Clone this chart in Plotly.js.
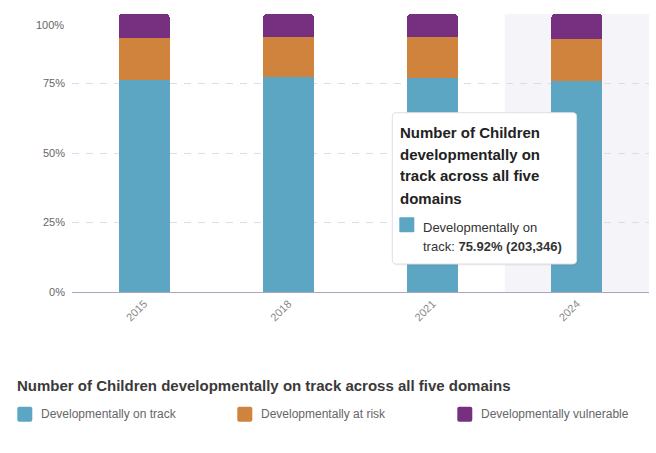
<!DOCTYPE html>
<html>
<head>
<meta charset="utf-8">
<script src="https://cdn.plot.ly/plotly-3.0.1.min.js"></script>
<style>
  html, body { margin: 0; padding: 0; background: #fff; }
  #chart { width: 656px; height: 453px; }
</style>
</head>
<body>
<div id="chart"></div>
<script>
// Share of children by developmental status, per collection year (percent)
const years = ['2015', '2018', '2021', '2024'];
const onTrack = [76.4, 77.3, 77.1, 75.92];
const atRisk = [15.1, 14.5, 14.7, 15.08];
const vulnerable = [8.5, 8.2, 8.2, 9.0];

const seriesNames = ['Developmentally on track', 'Developmentally at risk', 'Developmentally vulnerable'];
const seriesColors = ['#5ca5c3', '#cf833d', '#76307f'];

const yTickValues = [0, 25, 50, 75, 100];
const yTickLabels = ['0%', '25%', '50%', '75%', '100%'];

const chartTitle = 'Number of Children developmentally on track across all five domains';
const tooltipTitleLines = ['Number of Children', 'developmentally on', 'track across all five', 'domains'];
const highlightIndex = 3;        // 2024 column
const highlightCount = 203346;   // children on track in 2024

// plot-area box in page pixels, used to place the tooltip card and legend
const PL = 72, PR = 649, PT = 14, PB = 292;
const px = x => (x - PL) / (PR - PL);
const py = y => (PB - y) / (PB - PT);

function roundedRect(x0, y0, x1, y1, r) {
  const X = v => px(v).toFixed(5), Y = v => py(v).toFixed(5);
  return `M${X(x0 + r)},${Y(y0)} L${X(x1 - r)},${Y(y0)} Q${X(x1)},${Y(y0)} ${X(x1)},${Y(y0 + r)} ` +
         `L${X(x1)},${Y(y1 - r)} Q${X(x1)},${Y(y1)} ${X(x1 - r)},${Y(y1)} ` +
         `L${X(x0 + r)},${Y(y1)} Q${X(x0)},${Y(y1)} ${X(x0)},${Y(y1 - r)} ` +
         `L${X(x0)},${Y(y0 + r)} Q${X(x0)},${Y(y0)} ${X(x0 + r)},${Y(y0)} Z`;
}

const seriesValues = [onTrack, atRisk, vulnerable];
const traces = seriesValues.map((vals, i) => ({
  type: 'bar',
  x: years,
  y: vals,
  name: seriesNames[i],
  marker: { color: seriesColors[i], line: { width: 0 } },
  hoverinfo: 'skip',
  showlegend: false
}));

const shapes = [];
const annotations = [];

// highlighted column band
shapes.push({
  type: 'rect', xref: 'x', yref: 'paper',
  x0: highlightIndex - 0.5, x1: highlightIndex + 0.5, y0: 0, y1: 1,
  fillcolor: '#f4f4f9', line: { width: 0 }, layer: 'below'
});

// top tick label sits just under its gridline
annotations.push({
  xref: 'paper', yref: 'y', x: 0, y: yTickValues[yTickValues.length - 1],
  xanchor: 'right', yanchor: 'middle', xshift: -8, yshift: -11,
  text: yTickLabels[yTickLabels.length - 1], showarrow: false,
  font: { family: 'Liberation Sans, Arial, sans-serif', size: 11, color: '#666' },
  borderpad: 0, borderwidth: 0
});

// tooltip card for the highlighted on-track value
shapes.push({
  type: 'path', xref: 'paper', yref: 'paper',
  path: roundedRect(393.5, 114, 578, 265.5, 4),
  fillcolor: 'rgba(0,0,0,0.06)', line: { width: 0 }
});
shapes.push({
  type: 'path', xref: 'paper', yref: 'paper',
  path: roundedRect(392.3, 112.7, 576.7, 264, 4),
  fillcolor: '#ffffff', line: { color: '#dedee4', width: 1 }
});
shapes.push({
  type: 'path', xref: 'paper', yref: 'paper',
  path: roundedRect(399.3, 217.3, 414.3, 232.3, 1),
  fillcolor: seriesColors[0], line: { width: 0 }
});
const tipTitleY = [132, 154, 176, 198];
tooltipTitleLines.forEach((line, i) => {
  annotations.push({
    xref: 'paper', yref: 'paper', x: px(400), y: py(tipTitleY[i]),
    xanchor: 'left', yanchor: 'middle', text: '<b>' + line + '</b>', showarrow: false,
    font: { family: 'Liberation Sans, Arial, sans-serif', size: 15, color: '#222' },
    borderpad: 0, borderwidth: 0
  });
});
const valueText = onTrack[highlightIndex].toFixed(2) + '% (' + highlightCount.toLocaleString('en-US') + ')';
const tipBody = ['Developmentally on', 'track: <b>' + valueText + '</b>'];
const tipBodyY = [227, 246];
tipBody.forEach((line, i) => {
  annotations.push({
    xref: 'paper', yref: 'paper', x: px(422.7), y: py(tipBodyY[i]),
    xanchor: 'left', yanchor: 'middle', text: line, showarrow: false,
    font: { family: 'Liberation Sans, Arial, sans-serif', size: 13, color: '#333' },
    borderpad: 0, borderwidth: 0
  });
});

// legend below the chart
annotations.push({
  xref: 'paper', yref: 'paper', x: px(17), y: py(385),
  xanchor: 'left', yanchor: 'middle', text: '<b>' + chartTitle + '</b>', showarrow: false,
  font: { family: 'Liberation Sans, Arial, sans-serif', size: 15, color: '#3a3a3a' },
  borderpad: 0, borderwidth: 0
});
seriesNames.forEach((name, i) => {
  const x0 = 17.3 + i * 220;
  shapes.push({
    type: 'path', xref: 'paper', yref: 'paper',
    path: roundedRect(x0, 406.7, x0 + 15, 421.7, 2),
    fillcolor: seriesColors[i], line: { width: 0 }
  });
  annotations.push({
    xref: 'paper', yref: 'paper', x: px(x0 + 23.5), y: py(414),
    xanchor: 'left', yanchor: 'middle', text: name, showarrow: false,
    font: { family: 'Liberation Sans, Arial, sans-serif', size: 12, color: '#666' },
    borderpad: 0, borderwidth: 0
  });
});

const layout = {
  width: 656, height: 453,
  margin: { l: PL, r: 656 - PR, t: PT, b: 453 - PB, pad: 0 },
  paper_bgcolor: '#ffffff', plot_bgcolor: 'rgba(0,0,0,0)',
  barmode: 'stack', bargap: 0.646, barcornerradius: 4,
  showlegend: false,
  font: { family: 'Liberation Sans, Arial, sans-serif' },
  xaxis: {
    type: 'category', tickangle: -45, ticks: '',
    tickfont: { size: 11, color: '#888' },
    showline: true, linecolor: '#a8a8ba', linewidth: 1,
    showgrid: false, zeroline: false, fixedrange: true
  },
  yaxis: {
    range: [0, 100], tickvals: yTickValues,
    ticktext: yTickLabels.map((t, i) => i === yTickLabels.length - 1 ? '' : t),
    ticks: '', ticklabelstandoff: 6,
    tickfont: { size: 11, color: '#666' },
    showgrid: true, gridcolor: '#dcdce6', gridwidth: 1, griddash: '7px,7px',
    zeroline: false, showline: false, fixedrange: true
  },
  shapes: shapes,
  annotations: annotations
};

Plotly.newPlot('chart', traces, layout, { displayModeBar: false, staticPlot: true });
</script>
</body>
</html>
